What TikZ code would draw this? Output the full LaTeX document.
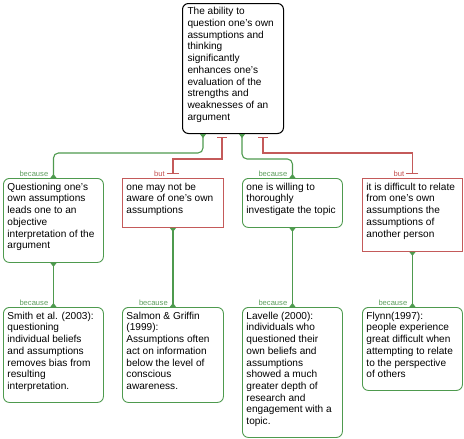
\documentclass[tikz,border=0pt]{standalone}
\usepackage{fontspec}
\setmainfont{Liberation Sans}
\usetikzlibrary{arrows.meta,calc}
\definecolor{gcol}{HTML}{4E9A4E}
\definecolor{rcol}{HTML}{C45A5A}
\definecolor{glab}{HTML}{5E9E5E}
\definecolor{rlab}{HTML}{C45050}
\tikzset{
  txt/.style={font=\fontsize{10.1}{11.7}\selectfont, inner xsep=4pt, inner ysep=4.5pt, anchor=north west, align=left},
  topbox/.style={txt, draw=black, line width=1pt, rounded corners=6pt, inner xsep=5pt, inner ysep=4pt},
  gbox/.style={txt, draw=gcol, line width=0.9pt, rounded corners=6pt},
  rbox/.style={txt, draw=rcol, line width=0.9pt},
  gline/.style={draw=gcol, line width=1.1pt, rounded corners=5pt,
    {Triangle[reversed,width=6pt,length=4pt]}-{Triangle[reversed,width=6pt,length=4pt]}},
  rline/.style={draw=rcol, line width=1.1pt, {Bar[width=10pt]}-{Bar[width=12pt]}},
  glabel/.style={font=\fontsize{7.6}{8}\selectfont, text=glab, inner sep=0pt, anchor=south east},
  rlabel/.style={font=\fontsize{7.6}{8}\selectfont, text=rlab, inner sep=0pt, anchor=south east},
}
\newcommand{\bx}[3]{\parbox[t][#2pt][t]{#1pt}{#3}}
\begin{document}
\begin{tikzpicture}[x=1pt,y=-1pt]
\useasboundingbox (0,0) rectangle (464,439);
% top
\node[topbox] (top) at (182,3) {\bx{91}{122}{The ability to\\question one's own\\assumptions and\\thinking\\significantly\\enhances one's\\evaluation of the\\strengths and\\weaknesses of an\\argument}};
% middle row
\node[gbox] (a) at (3,178) {\bx{92}{75}{Questioning one's\\own assumptions\\leads one to an\\objective\\interpretation of the\\argument}};
\node[rbox] (b) at (122,178) {\bx{93}{40}{one may not be\\aware of one's own\\assumptions}};
\node[gbox] (c) at (242,178) {\bx{92}{40}{one is willing to\\thoroughly\\investigate the topic}};
\node[rbox] (d) at (362,178) {\bx{92}{64}{it is difficult to relate\\from one's own\\assumptions the\\assumptions of\\another person}};
% bottom row
\node[gbox] (e) at (3,307) {\bx{92}{86}{Smith et al. (2003):\\questioning\\individual beliefs\\and assumptions\\removes bias from\\resulting\\interpretation.}};
\node[gbox] (f) at (122,307) {\bx{93}{86}{Salmon \& Griffin\\(1999):\\Assumptions often\\act on information\\below the level of\\conscious\\awareness.}};
\node[gbox] (g) at (242,307) {\bx{92}{121}{Lavelle (2000):\\individuals who\\questioned their\\own beliefs and\\assumptions\\showed a much\\greater depth of\\research and\\engagement with a\\topic.}};
\node[gbox] (h) at (362,307) {\bx{92}{74}{Flynn(1997):\\people experience\\great difficult when\\attempting to relate\\to the perspective\\of others}};
% connectors top -> middle
\draw[gline] ($(top.south west)+(21,0)$) -- ++(0,19) -| (a.north);
\draw[rline] ($(top.south west)+(40,3)$) -- ++(0,22) -| ($(b.north)+(0,-4)$);
\draw[gline] ($(top.south west)+(60,0)$) -- ++(0,25) -| (c.north);
\draw[rline] ($(top.south west)+(81,3)$) -- ++(0,16) -| ($(d.north)+(0,-4)$);
\node[glabel] (l1) at ($(a.north)+(-5,-1)$) {because};
\node[rlabel] (l2) at ($(b.north)+(-8,-1.5)$) {but};
\node[glabel] (l3) at ($(c.north)+(-5,-1)$) {because};
\node[rlabel] (l4) at ($(d.north)+(-8,-1.5)$) {but};
% connectors middle -> bottom
\draw[gline] (a.south) -- (e.north);
\draw[gline] (b.south) -- (f.north);
\draw[gline] (c.south) -- (g.north);
\draw[gline] (d.south) -- (h.north);
\node[glabel] (l5) at ($(e.north)+(-5,-1)$) {because};
\node[glabel] (l6) at ($(f.north)+(-5,-1)$) {because};
\node[glabel] (l7) at ($(g.north)+(-5,-1)$) {because};
\node[glabel] (l8) at ($(h.north)+(-5,-1)$) {because};
\end{tikzpicture}
\end{document}
